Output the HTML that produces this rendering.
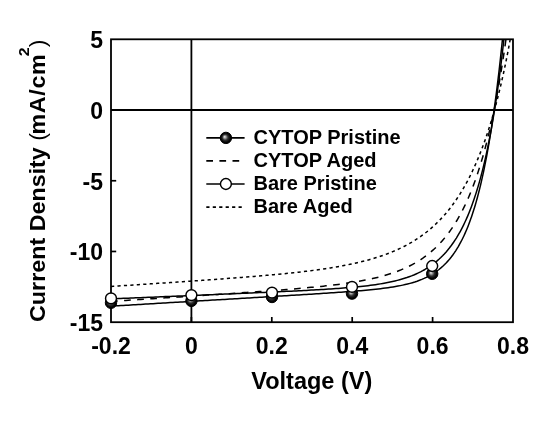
<!DOCTYPE html>
<html><head><meta charset="utf-8"><style>
html,body{margin:0;padding:0;background:#fff;}
body{width:550px;height:427px;overflow:hidden;}
svg{display:block;}
text{font-family:"Liberation Sans",Arial,sans-serif;font-weight:bold;fill:#000;}
</style></head><body>
<svg width="550" height="427" viewBox="0 0 550 427">
<defs>
<radialGradient id="sph" cx="0.5" cy="0.5" r="0.5" fx="0.38" fy="0.4">
<stop offset="0" stop-color="#f2f2f2"/><stop offset="0.22" stop-color="#a0a0a0"/><stop offset="0.5" stop-color="#303030"/><stop offset="0.8" stop-color="#050505"/><stop offset="1" stop-color="#000"/>
</radialGradient>
</defs>
<rect width="550" height="427" fill="#fff"/>
<g stroke="#000" stroke-width="1.8" fill="none">
<line x1="111" y1="110.02" x2="513" y2="110.02"/>
<line x1="191.40" y1="39.3" x2="191.40" y2="322.2"/>
<rect x="111" y="39.3" width="402" height="282.90"/>
</g>
<g stroke="#000" stroke-width="1.7">
<line x1="111" y1="110.02" x2="116.2" y2="110.02"/>
<line x1="111" y1="180.75" x2="116.2" y2="180.75"/>
<line x1="111" y1="251.47" x2="116.2" y2="251.47"/>
<line x1="191.40" y1="322.2" x2="191.40" y2="317.0"/>
<line x1="271.80" y1="322.2" x2="271.80" y2="317.0"/>
<line x1="352.20" y1="322.2" x2="352.20" y2="317.0"/>
<line x1="432.60" y1="322.2" x2="432.60" y2="317.0"/>
</g>
<g fill="none" stroke="#000" stroke-width="1.5" stroke-linejoin="round">
<path d="M111.02 286.44 L113.48 286.28 L115.95 286.12 L118.42 285.96 L120.88 285.80 L123.35 285.64 L125.82 285.48 L128.28 285.32 L130.75 285.15 L133.22 284.99 L135.68 284.83 L138.15 284.67 L140.62 284.51 L143.08 284.35 L145.55 284.19 L148.02 284.02 L150.48 283.86 L152.95 283.70 L155.42 283.53 L157.88 283.37 L160.35 283.21 L162.82 283.04 L165.28 282.88 L167.75 282.71 L170.22 282.55 L172.68 282.38 L175.15 282.22 L177.62 282.05 L180.08 281.88 L182.55 281.71 L185.01 281.55 L187.48 281.38 L189.95 281.21 L192.41 281.04 L194.88 280.87 L197.35 280.69 L199.81 280.52 L202.28 280.35 L204.75 280.17 L207.21 280.00 L209.68 279.82 L212.14 279.65 L214.61 279.47 L217.08 279.29 L219.54 279.11 L222.01 278.93 L224.47 278.74 L226.94 278.56 L229.41 278.37 L231.87 278.19 L234.34 278.00 L236.80 277.81 L239.27 277.62 L241.73 277.42 L244.20 277.23 L246.67 277.03 L249.13 276.83 L251.60 276.63 L254.06 276.42 L256.53 276.22 L258.99 276.01 L261.46 275.79 L263.92 275.58 L266.39 275.36 L268.85 275.14 L271.31 274.92 L273.78 274.69 L276.24 274.46 L278.71 274.22 L281.17 273.98 L283.63 273.74 L286.10 273.49 L288.56 273.23 L291.02 272.98 L293.49 272.71 L295.95 272.44 L298.41 272.17 L300.87 271.88 L303.34 271.60 L305.80 271.30 L308.26 271.00 L310.72 270.69 L313.18 270.37 L315.64 270.05 L318.10 269.71 L320.56 269.37 L323.02 269.02 L325.48 268.65 L327.94 268.28 L330.40 267.89 L332.86 267.49 L335.32 267.08 L337.77 266.66 L340.23 266.22 L342.69 265.77 L345.14 265.30 L347.60 264.82 L350.05 264.31 L352.50 263.80 L354.90 263.27 L357.29 262.73 L359.68 262.16 L362.07 261.58 L364.46 260.97 L366.85 260.35 L369.24 259.69 L371.63 259.01 L374.01 258.31 L376.40 257.58 L378.78 256.81 L381.17 256.02 L383.49 255.21 L385.81 254.38 L388.13 253.50 L390.45 252.60 L392.77 251.65 L395.02 250.69 L397.28 249.69 L399.53 248.65 L401.79 247.57 L403.98 246.47 L406.17 245.33 L408.35 244.14 L410.54 242.90 L412.67 241.65 L414.79 240.34 L416.91 238.98 L418.97 237.61 L421.03 236.18 L423.03 234.74 L425.02 233.24 L426.96 231.72 L428.89 230.15 L430.76 228.57 L432.63 226.93 L434.50 225.23 L436.31 223.52 L438.11 221.75 L439.86 219.98 L441.60 218.14 L443.28 216.30 L444.96 214.40 L446.58 212.50 L448.14 210.61 L449.70 208.66 L451.19 206.72 L452.69 204.72 L454.18 202.66 L455.61 200.62 L457.04 198.51 L458.42 196.43 L459.79 194.29 L461.10 192.19 L462.40 190.02 L463.65 187.89 L464.90 185.71 L466.14 183.46 L467.33 181.27 L468.51 179.01 L469.64 176.81 L470.76 174.56 L471.89 172.26 L472.95 170.01 L474.01 167.72 L475.07 165.37 L476.08 163.10 L477.08 160.77 L478.07 158.40 L479.02 156.11 L479.96 153.77 L480.89 151.38 L481.78 149.09 L482.65 146.75 L483.53 144.37 L484.41 141.94 L485.23 139.63 L486.05 137.26 L486.86 134.86 L487.68 132.41 L488.49 129.91 L489.25 127.55 L490.01 125.14 L490.76 122.69 L491.51 120.19 L492.21 117.84 L492.91 115.45 L493.60 113.02 L494.30 110.55 L494.99 108.05 L495.68 105.50 L496.32 103.11 L496.95 100.69 L497.59 98.24 L498.22 95.74 L498.85 93.21 L499.48 90.65 L500.06 88.26 L500.63 85.84 L501.21 83.39 L501.78 80.90 L502.35 78.39 L502.92 75.83 L503.49 73.25 L504.06 70.63 L504.57 68.21 L505.09 65.77 L505.60 63.30 L506.11 60.79 L506.62 58.26 L507.13 55.69 L507.64 53.10 L508.15 50.47 L508.65 47.81 L509.11 45.38 L509.56 42.93 L510.01 40.45 L510.22 39.30" stroke-dasharray="3.2 3.25"/>
<path d="M111.03 301.37 L113.50 301.21 L115.97 301.05 L118.44 300.89 L120.91 300.73 L123.38 300.58 L125.85 300.42 L128.32 300.26 L130.79 300.10 L133.26 299.94 L135.73 299.78 L138.20 299.62 L140.67 299.46 L143.14 299.30 L145.61 299.14 L148.08 298.98 L150.55 298.82 L153.02 298.66 L155.49 298.50 L157.96 298.34 L160.43 298.18 L162.90 298.02 L165.37 297.86 L167.84 297.70 L170.31 297.54 L172.78 297.38 L175.25 297.22 L177.72 297.06 L180.19 296.90 L182.66 296.74 L185.13 296.58 L187.60 296.42 L190.07 296.25 L192.54 296.09 L195.01 295.93 L197.48 295.77 L199.95 295.61 L202.42 295.44 L204.89 295.28 L207.36 295.12 L209.83 294.95 L212.30 294.79 L214.77 294.63 L217.24 294.46 L219.71 294.30 L222.18 294.13 L224.65 293.96 L227.12 293.80 L229.59 293.63 L232.06 293.46 L234.53 293.29 L237.00 293.13 L239.46 292.96 L241.93 292.79 L244.40 292.62 L246.87 292.44 L249.34 292.27 L251.81 292.10 L254.28 291.92 L256.75 291.75 L259.22 291.57 L261.69 291.39 L264.16 291.21 L266.63 291.03 L269.10 290.85 L271.57 290.66 L274.04 290.48 L276.51 290.29 L278.98 290.10 L281.45 289.91 L283.92 289.71 L286.39 289.52 L288.85 289.32 L291.32 289.11 L293.79 288.91 L296.26 288.70 L298.73 288.49 L301.20 288.27 L303.67 288.05 L306.14 287.83 L308.61 287.60 L311.08 287.37 L313.54 287.13 L316.01 286.89 L318.48 286.64 L320.95 286.39 L323.42 286.13 L325.89 285.86 L328.35 285.58 L330.82 285.30 L333.29 285.00 L335.76 284.70 L338.22 284.39 L340.69 284.07 L343.16 283.74 L345.62 283.39 L348.09 283.03 L350.56 282.66 L353.02 282.28 L355.49 281.88 L357.95 281.46 L360.42 281.02 L362.88 280.57 L365.35 280.09 L367.75 279.61 L370.16 279.10 L372.56 278.58 L374.96 278.02 L377.36 277.44 L379.77 276.83 L382.17 276.19 L384.57 275.52 L386.97 274.82 L389.37 274.07 L391.71 273.31 L394.05 272.51 L396.38 271.67 L398.72 270.78 L401.00 269.87 L403.27 268.91 L405.55 267.89 L407.82 266.83 L410.03 265.73 L412.24 264.58 L414.40 263.40 L416.55 262.16 L418.69 260.85 L420.78 259.51 L422.87 258.10 L424.89 256.66 L426.86 255.20 L428.82 253.66 L430.73 252.09 L432.63 250.44 L434.47 248.77 L436.25 247.08 L438.03 245.31 L439.75 243.53 L441.46 241.66 L443.12 239.77 L444.72 237.88 L446.31 235.91 L447.85 233.93 L449.32 231.95 L450.79 229.89 L452.20 227.85 L453.62 225.72 L454.97 223.61 L456.26 221.51 L457.55 219.35 L458.78 217.21 L460.01 215.00 L461.18 212.83 L462.34 210.59 L463.45 208.40 L464.56 206.14 L465.67 203.82 L466.71 201.55 L467.76 199.21 L468.74 196.95 L469.73 194.62 L470.71 192.24 L471.64 189.93 L472.56 187.56 L473.49 185.14 L474.35 182.81 L475.22 180.42 L476.08 177.98 L476.88 175.64 L477.69 173.26 L478.49 170.82 L479.29 168.33 L480.04 165.97 L480.78 163.55 L481.52 161.09 L482.26 158.57 L482.95 156.21 L483.63 153.80 L484.31 151.34 L484.99 148.83 L485.67 146.28 L486.29 143.89 L486.92 141.47 L487.54 139.00 L488.16 136.49 L488.78 133.93 L489.40 131.33 L489.96 128.93 L490.52 126.48 L491.08 124.00 L491.64 121.48 L492.20 118.92 L492.76 116.31 L493.32 113.67 L493.82 111.25 L494.32 108.80 L494.82 106.32 L495.32 103.79 L495.82 101.24 L496.32 98.64 L496.81 96.01 L497.31 93.34 L497.81 90.63 L498.25 88.19 L498.69 85.72 L499.13 83.21 L499.57 80.68 L500.01 78.11 L500.45 75.50 L500.88 72.87 L501.32 70.20 L501.76 67.50 L502.19 64.76 L502.57 62.34 L502.95 59.89 L503.33 57.41 L503.71 54.90 L504.09 52.37 L504.47 49.80 L504.85 47.21 L505.22 44.59 L505.60 41.94 L505.97 39.30" stroke-dasharray="6.7 6.4"/>
<path d="M111.04 298.89 L113.51 298.79 L115.98 298.68 L118.46 298.58 L120.93 298.48 L123.40 298.37 L125.87 298.27 L128.34 298.17 L130.81 298.06 L133.28 297.96 L135.75 297.85 L138.22 297.75 L140.70 297.65 L143.17 297.54 L145.64 297.44 L148.11 297.34 L150.58 297.23 L153.05 297.13 L155.52 297.03 L157.99 296.92 L160.46 296.82 L162.93 296.71 L165.41 296.61 L167.88 296.51 L170.35 296.40 L172.82 296.30 L175.29 296.20 L177.76 296.09 L180.23 295.99 L182.70 295.88 L185.17 295.78 L187.65 295.68 L190.12 295.57 L192.59 295.47 L195.06 295.36 L197.53 295.26 L200.00 295.15 L202.47 295.05 L204.94 294.95 L207.41 294.84 L209.89 294.74 L212.36 294.63 L214.83 294.53 L217.30 294.42 L219.77 294.32 L222.24 294.21 L224.71 294.11 L227.18 294.00 L229.65 293.90 L232.12 293.79 L234.60 293.68 L237.07 293.58 L239.54 293.47 L242.01 293.37 L244.48 293.26 L246.95 293.15 L249.42 293.04 L251.89 292.94 L254.36 292.83 L256.84 292.72 L259.31 292.61 L261.78 292.50 L264.25 292.39 L266.72 292.28 L269.19 292.17 L271.66 292.06 L274.13 291.95 L276.60 291.83 L279.07 291.72 L281.54 291.60 L284.02 291.49 L286.49 291.37 L288.96 291.25 L291.43 291.13 L293.90 291.01 L296.37 290.89 L298.84 290.77 L301.31 290.64 L303.78 290.52 L306.25 290.39 L308.72 290.26 L311.19 290.12 L313.66 289.99 L316.14 289.85 L318.61 289.71 L321.08 289.56 L323.55 289.41 L326.02 289.26 L328.49 289.10 L330.96 288.94 L333.43 288.78 L335.90 288.61 L338.37 288.43 L340.84 288.25 L343.31 288.06 L345.78 287.86 L348.25 287.66 L350.72 287.44 L353.19 287.22 L355.65 286.99 L358.12 286.74 L360.59 286.49 L363.06 286.22 L365.53 285.94 L368.00 285.64 L370.47 285.33 L372.93 284.99 L375.40 284.64 L377.87 284.27 L380.33 283.88 L382.80 283.46 L385.27 283.01 L387.67 282.55 L390.08 282.06 L392.48 281.53 L394.89 280.97 L397.29 280.37 L399.69 279.73 L402.09 279.05 L404.50 278.32 L406.84 277.56 L409.18 276.74 L411.52 275.87 L413.79 274.96 L416.07 273.98 L418.35 272.94 L420.56 271.85 L422.78 270.69 L424.93 269.48 L427.08 268.18 L429.17 266.84 L431.20 265.45 L433.23 263.98 L435.20 262.45 L437.11 260.87 L438.95 259.25 L440.80 257.53 L442.58 255.77 L444.30 253.97 L445.96 252.14 L447.56 250.27 L449.16 248.31 L450.70 246.32 L452.18 244.31 L453.60 242.29 L455.01 240.18 L456.37 238.06 L457.66 235.94 L458.96 233.73 L460.19 231.53 L461.37 229.35 L462.54 227.08 L463.65 224.85 L464.76 222.53 L465.82 220.25 L466.87 217.89 L467.86 215.59 L468.85 213.21 L469.78 210.89 L470.71 208.50 L471.58 206.19 L472.45 203.82 L473.32 201.37 L474.13 199.02 L474.93 196.61 L475.74 194.13 L476.49 191.76 L477.24 189.34 L477.99 186.85 L478.67 184.50 L479.36 182.09 L480.05 179.62 L480.74 177.10 L481.42 174.51 L482.05 172.09 L482.68 169.61 L483.30 167.08 L483.93 164.49 L484.50 162.10 L485.06 159.65 L485.63 157.15 L486.19 154.61 L486.76 152.01 L487.32 149.37 L487.83 146.94 L488.34 144.47 L488.84 141.96 L489.35 139.40 L489.85 136.79 L490.35 134.14 L490.86 131.45 L491.30 129.01 L491.75 126.53 L492.19 124.01 L492.64 121.46 L493.08 118.86 L493.53 116.22 L493.97 113.54 L494.41 110.82 L494.85 108.06 L495.24 105.60 L495.62 103.11 L496.01 100.59 L496.39 98.03 L496.78 95.44 L497.16 92.80 L497.54 90.14 L497.93 87.43 L498.31 84.69 L498.69 81.91 L499.07 79.10 L499.39 76.65 L499.72 74.17 L500.04 71.67 L500.37 69.13 L500.69 66.57 L501.02 63.97 L501.34 61.35 L501.66 58.69 L501.98 56.00 L502.31 53.28 L502.63 50.53 L502.95 47.74 L503.27 44.92 L503.59 42.07 L503.89 39.30"/>
<path d="M111.03 306.16 L113.50 306.01 L115.97 305.87 L118.45 305.72 L120.92 305.57 L123.40 305.42 L125.87 305.28 L128.34 305.13 L130.82 304.98 L133.29 304.83 L135.76 304.69 L138.24 304.54 L140.71 304.39 L143.18 304.24 L145.66 304.10 L148.13 303.95 L150.60 303.80 L153.08 303.65 L155.55 303.51 L158.02 303.36 L160.50 303.21 L162.97 303.06 L165.44 302.92 L167.92 302.77 L170.39 302.62 L172.87 302.47 L175.34 302.33 L177.81 302.18 L180.29 302.03 L182.76 301.88 L185.23 301.74 L187.71 301.59 L190.18 301.44 L192.65 301.30 L195.13 301.15 L197.60 301.00 L200.07 300.85 L202.55 300.71 L205.02 300.56 L207.49 300.41 L209.97 300.26 L212.44 300.12 L214.92 299.97 L217.39 299.82 L219.86 299.67 L222.34 299.52 L224.81 299.38 L227.28 299.23 L229.76 299.08 L232.23 298.93 L234.70 298.79 L237.18 298.64 L239.65 298.49 L242.12 298.34 L244.60 298.20 L247.07 298.05 L249.54 297.90 L252.02 297.75 L254.49 297.60 L256.97 297.46 L259.44 297.31 L261.91 297.16 L264.39 297.01 L266.86 296.86 L269.33 296.71 L271.81 296.56 L274.28 296.42 L276.75 296.27 L279.23 296.12 L281.70 295.97 L284.17 295.82 L286.65 295.67 L289.12 295.52 L291.59 295.37 L294.07 295.22 L296.54 295.07 L299.01 294.91 L301.49 294.76 L303.96 294.61 L306.44 294.45 L308.91 294.30 L311.38 294.15 L313.86 293.99 L316.33 293.83 L318.80 293.68 L321.28 293.52 L323.75 293.36 L326.22 293.20 L328.70 293.03 L331.17 292.87 L333.65 292.70 L336.12 292.53 L338.59 292.36 L341.07 292.19 L343.54 292.01 L346.01 291.83 L348.49 291.65 L350.96 291.46 L353.43 291.27 L355.91 291.07 L358.38 290.87 L360.86 290.66 L363.33 290.45 L365.80 290.22 L368.28 289.99 L370.75 289.75 L373.23 289.50 L375.70 289.24 L378.18 288.96 L380.65 288.67 L383.12 288.36 L385.60 288.04 L388.07 287.70 L390.55 287.33 L393.02 286.94 L395.50 286.53 L397.91 286.09 L400.33 285.63 L402.74 285.12 L405.16 284.58 L407.58 284.00 L409.99 283.37 L412.41 282.68 L414.76 281.96 L417.12 281.17 L419.48 280.32 L421.78 279.41 L424.07 278.43 L426.31 277.39 L428.55 276.25 L430.73 275.05 L432.85 273.79 L434.91 272.46 L436.96 271.02 L438.96 269.50 L440.90 267.91 L442.78 266.25 L444.60 264.52 L446.36 262.73 L448.06 260.87 L449.70 258.96 L451.28 256.99 L452.80 254.98 L454.26 252.92 L455.66 250.83 L457.00 248.72 L458.28 246.60 L459.50 244.47 L460.72 242.23 L461.88 240.00 L462.98 237.78 L464.08 235.46 L465.12 233.17 L466.16 230.79 L467.14 228.45 L468.06 226.16 L468.98 223.79 L469.83 221.50 L470.69 219.12 L471.55 216.66 L472.35 214.29 L473.15 211.84 L473.95 209.31 L474.69 206.91 L475.43 204.42 L476.17 201.86 L476.84 199.45 L477.52 196.97 L478.20 194.41 L478.82 192.03 L479.44 189.58 L480.06 187.07 L480.68 184.50 L481.29 181.86 L481.85 179.42 L482.41 176.93 L482.97 174.39 L483.53 171.78 L484.09 169.11 L484.58 166.69 L485.08 164.22 L485.58 161.69 L486.08 159.12 L486.58 156.49 L487.08 153.80 L487.57 151.06 L488.01 148.62 L488.45 146.13 L488.89 143.60 L489.32 141.03 L489.76 138.40 L490.20 135.73 L490.64 133.01 L491.08 130.24 L491.52 127.43 L491.90 124.97 L492.27 122.48 L492.65 119.94 L493.03 117.37 L493.41 114.76 L493.78 112.11 L494.16 109.41 L494.54 106.68 L494.92 103.90 L495.30 101.08 L495.68 98.22 L496.06 95.31 L496.38 92.85 L496.69 90.36 L497.01 87.84 L497.33 85.29 L497.64 82.70 L497.96 80.08 L498.28 77.43 L498.60 74.74 L498.92 72.02 L499.23 69.26 L499.55 66.47 L499.87 63.64 L500.19 60.77 L500.51 57.87 L500.83 54.93 L501.15 51.95 L501.47 48.93 L501.73 46.49 L501.98 44.03 L502.24 41.53 L502.47 39.30"/>
</g>
<circle cx="111.0" cy="302.8" r="5.7" fill="url(#sph)" stroke="#000" stroke-width="1.0"/>
<circle cx="191.4" cy="300.9" r="5.7" fill="url(#sph)" stroke="#000" stroke-width="1.0"/>
<circle cx="272.0" cy="297.0" r="5.7" fill="url(#sph)" stroke="#000" stroke-width="1.0"/>
<circle cx="352.0" cy="293.6" r="5.7" fill="url(#sph)" stroke="#000" stroke-width="1.0"/>
<circle cx="432.2" cy="273.8" r="5.7" fill="url(#sph)" stroke="#000" stroke-width="1.0"/>
<circle cx="111.0" cy="298.4" r="5.45" fill="#fff" stroke="#000" stroke-width="1.45"/>
<circle cx="191.4" cy="295.1" r="5.45" fill="#fff" stroke="#000" stroke-width="1.45"/>
<circle cx="272.0" cy="292.6" r="5.45" fill="#fff" stroke="#000" stroke-width="1.45"/>
<circle cx="352.0" cy="286.9" r="5.45" fill="#fff" stroke="#000" stroke-width="1.45"/>
<circle cx="432.2" cy="266.0" r="5.45" fill="#fff" stroke="#000" stroke-width="1.45"/>
<g font-size="23" text-anchor="end">
<text transform="translate(103 48.10) scale(1.0 1)">5</text>
<text transform="translate(103 118.82) scale(1.0 1)">0</text>
<text transform="translate(103 189.55) scale(1.0 1)">-5</text>
<text transform="translate(103 260.27) scale(1.0 1)">-10</text>
<text transform="translate(103 331.00) scale(1.0 1)">-15</text>
</g>
<g font-size="23" text-anchor="middle">
<text transform="translate(111.00 353.8) scale(1.0 1)">-0.2</text>
<text transform="translate(191.40 353.8) scale(1.0 1)">0</text>
<text transform="translate(271.80 353.8) scale(1.0 1)">0.2</text>
<text transform="translate(352.20 353.8) scale(1.0 1)">0.4</text>
<text transform="translate(432.60 353.8) scale(1.0 1)">0.6</text>
<text transform="translate(513.00 353.8) scale(1.0 1)">0.8</text>
</g>
<text transform="translate(311.8 389) scale(1.0 1)" font-size="23.5" text-anchor="middle">Voltage (V)</text>
<text transform="translate(45.4 322) rotate(-90) scale(1.06 1)" font-size="22">Current Density <tspan font-weight="normal">(</tspan><tspan dx="-1.5" letter-spacing="0.6">mA/cm</tspan><tspan dx="-2.4" dy="-16.3" font-size="15">2</tspan><tspan dy="16.3" font-weight="normal">)</tspan></text>
<g font-size="20">
<text x="253.5" y="144.3">CYTOP Pristine</text>
<text x="253.5" y="167.35">CYTOP Aged</text>
<text x="253.5" y="190.40">Bare Pristine</text>
<text x="253.5" y="213.45">Bare Aged</text>
</g>
<g stroke="#000" stroke-width="1.7">
<line x1="206.3" y1="137.9" x2="244.6" y2="137.9"/>
<line x1="206.3" y1="160.95" x2="244.6" y2="160.95" stroke-dasharray="6.7 6.4"/>
<line x1="206.3" y1="184.00" x2="244.6" y2="184.00"/>
<line x1="206.3" y1="207.05" x2="244.6" y2="207.05" stroke-dasharray="3.2 3.25"/>
</g>
<circle cx="225.9" cy="137.9" r="5.7" fill="url(#sph)" stroke="#000" stroke-width="1.0"/>
<circle cx="225.9" cy="184.0" r="5.45" fill="#fff" stroke="#000" stroke-width="1.45"/>
</svg>
</body></html>
